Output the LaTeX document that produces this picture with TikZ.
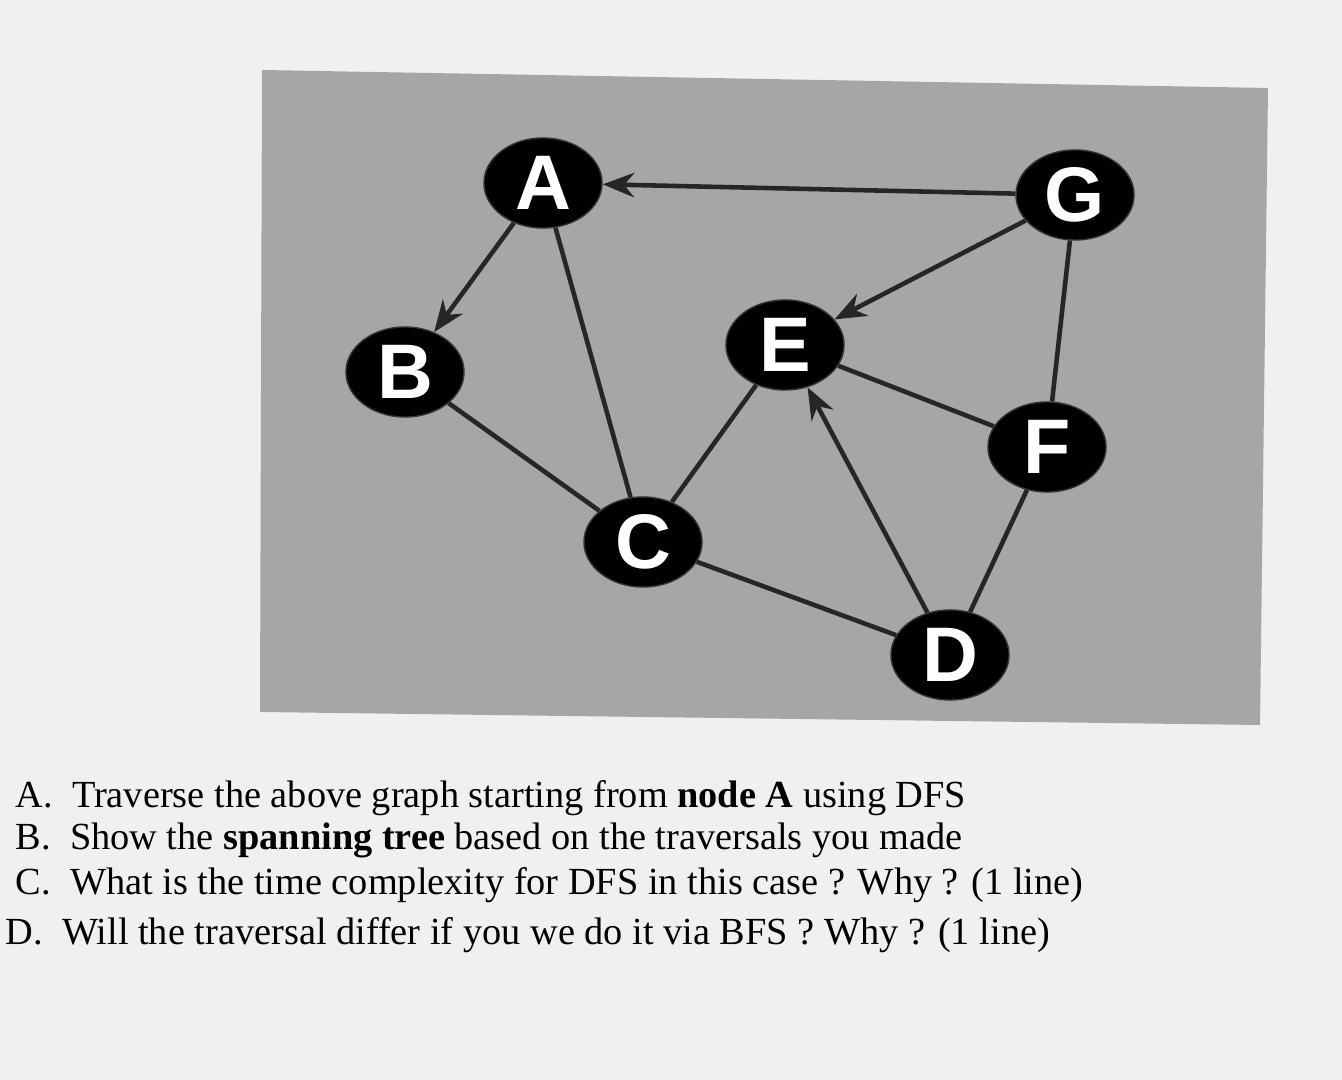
\documentclass[tikz,border=0pt]{standalone}
\usepackage{fontspec}
\setmainfont{Liberation Serif}
\newfontfamily\labfont{Liberation Sans}
\usetikzlibrary{shapes.geometric,arrows.meta}
\begin{document}
\begin{tikzpicture}[x=0.01cm,y=-0.01cm,
  vx/.style={ellipse,fill=black,draw=black!80,inner sep=0pt,minimum width=1.18cm,minimum height=0.9cm,text=white,font=\labfont\bfseries\fontsize{22}{22}\selectfont},
  ed/.style={line width=1.3pt,draw=black!85},
  ar/.style={ed,-{Stealth[length=9pt,width=7pt]}},
  qt/.style={anchor=base west,font=\fontsize{10.9}{13}\selectfont,inner sep=0pt}]
\useasboundingbox (0,0) rectangle (1342,1080);
\fill[gray!12] (0,0) rectangle (1342,1080);
\fill[gray!70] (262,70) -- (1268,88) -- (1260,725) -- (260,712) -- cycle;
\node[vx] (A) at (543,183) {A};
\node[vx] (G) at (1075,195) {G};
\node[vx] (B) at (405,372) {B};
\node[vx] (E) at (785,345) {E};
\node[vx] (F) at (1047,447) {F};
\node[vx] (C) at (643,542) {C};
\node[vx] (D) at (950,655) {D};
\draw[ar] (G) -- (A);
\draw[ar] (A) -- (B);
\draw[ar] (G) -- (E);
\draw[ar] (D) -- (E);
\draw[ed] (A) -- (C);
\draw[ed] (B) -- (C);
\draw[ed] (C) -- (E);
\draw[ed] (E) -- (F);
\draw[ed] (G) -- (F);
\draw[ed] (F) -- (D);
\draw[ed] (C) -- (D);
\node[qt] (q1) at (15,808) {A.\ \ Traverse the above graph starting from \textbf{node A} using DFS};
\node[qt] (q2) at (15,850) {B.\ \ Show the \textbf{spanning tree} based on the traversals you made};
\node[qt] (q3) at (15,895) {C.\ \ What is the time complexity for DFS in this case ? Why ? (1 line)};
\node[qt] (q4) at (5,945) {D.\ \ Will the traversal differ if you we do it via BFS ? Why ? (1 line)};
\end{tikzpicture}
\end{document}
